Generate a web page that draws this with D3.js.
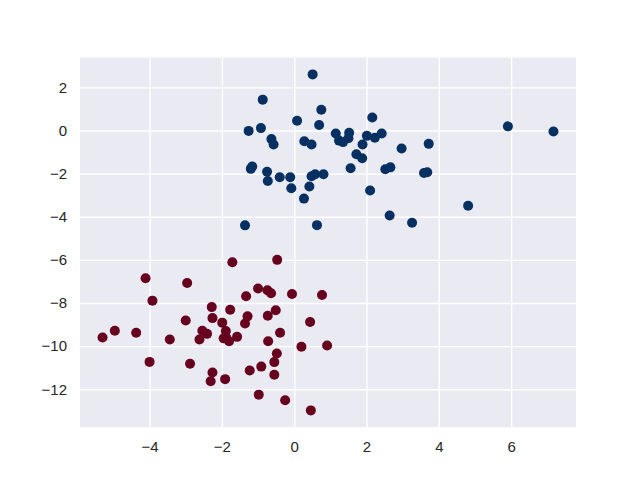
<!DOCTYPE html>
<html>
<head>
<meta charset="utf-8">
<script src="https://cdn.jsdelivr.net/npm/d3@7"></script>
<style>
  html, body { margin: 0; padding: 0; background: #ffffff; }
  svg { display: block; }
</style>
</head>
<body>
<script>
// Cluster 1 (blue) points
const blueX = [0.51, -0.87, 0.75, 0.08, 0.69, -1.26, -0.92, -0.63, -0.57, 0.28,
  0.48, 1.15, 1.24, 1.35, 1.52, 1.50, 2.16, 2.01, 2.23, 2.42,
  1.89, 1.72, 1.88, 1.56, 2.97, 3.72, 2.52, 2.66, 3.59, 3.68,
  -1.20, -1.16, -0.75, -0.73, -0.40, -0.11, -0.08, 0.48, 0.58, 0.81,
  0.42, 0.27, 2.10, 2.64, 3.26, -1.36, 0.63, 4.81, 5.91, 7.17];
const blueY = [2.60, 1.43, 0.96, 0.45, 0.25, -0.02, 0.11, -0.40, -0.65, -0.50,
  -0.65, -0.14, -0.47, -0.54, -0.11, -0.36, 0.60, -0.25, -0.34, -0.14,
  -0.65, -1.10, -1.29, -1.75, -0.84, -0.62, -1.80, -1.71, -1.97, -1.94,
  -1.78, -1.67, -1.91, -2.34, -2.17, -2.17, -2.68, -2.12, -2.03, -2.03,
  -2.60, -3.16, -2.78, -3.94, -4.28, -4.40, -4.39, -3.49, 0.19, -0.05];
// Cluster 0 (red) points
const redX = [-1.71, -0.47, -4.11, -2.96, -3.92, -1.33, -1.00, -0.74, -0.64, -0.06,
  0.77, -2.28, -1.77, -1.29, -1.36, -2.26, -1.99, -3.00, -0.73, -0.51,
  0.44, -2.54, -2.41, -2.62, -1.89, -1.88, -1.80, -1.95, -1.58, -0.72,
  -0.39, -4.96, -5.30, -4.37, -3.44, -4.00, -2.88, -2.26, -2.31, -1.91,
  -1.23, -0.91, -0.55, -0.55, -0.48, 0.20, 0.91, -0.98, -0.25, 0.46];
const redY = [-6.11, -6.00, -6.85, -7.07, -7.89, -7.69, -7.33, -7.41, -7.55, -7.58,
  -7.63, -8.19, -8.31, -8.62, -8.95, -8.70, -8.91, -8.81, -8.59, -8.34,
  -8.88, -9.29, -9.43, -9.69, -9.30, -9.60, -9.77, -9.64, -9.57, -9.77,
  -9.38, -9.29, -9.60, -9.38, -9.69, -10.73, -10.82, -11.22, -11.63, -11.53,
  -11.13, -10.95, -11.33, -10.74, -10.34, -10.03, -9.97, -12.25, -12.51, -12.98];
const xTicks = [-4, -2, 0, 2, 4, 6];
const yTicks = [-12, -10, -8, -6, -4, -2, 0, 2];
const colors = { blue: "#053061", red: "#67001f" };

const W = 640, H = 480;
const padL = 80, padT = 57.6, pw = 496, ph = 369.6;

const points = [];
redX.forEach((v, i) => points.push({ x: v, y: redY[i], c: colors.red }));
blueX.forEach((v, i) => points.push({ x: v, y: blueY[i], c: colors.blue }));

const allX = points.map(p => p.x), allY = points.map(p => p.y);
const xmin = d3.min(allX), xmax = d3.max(allX);
const ymin = d3.min(allY), ymax = d3.max(allY);
const mx = (xmax - xmin) * 0.05, my = (ymax - ymin) * 0.05;

const xs = d3.scaleLinear().domain([xmin - mx, xmax + mx]).range([padL, padL + pw]);
const ys = d3.scaleLinear().domain([ymin - my, ymax + my]).range([padT + ph, padT]);

const svg = d3.select("body").append("svg").attr("width", W).attr("height", H);
svg.append("rect").attr("x", padL).attr("y", padT).attr("width", pw).attr("height", ph)
  .attr("fill", "#eaeaf2");

const fmt = d => (d < 0 ? "\u2212" + Math.abs(d) : String(d));

const xAxis = svg.append("g").attr("transform", `translate(0,${padT + ph})`)
  .call(d3.axisBottom(xs).tickValues(xTicks).tickFormat(fmt).tickSize(-ph).tickPadding(14));
const yAxis = svg.append("g").attr("transform", `translate(${padL},0)`)
  .call(d3.axisLeft(ys).tickValues(yTicks).tickFormat(fmt).tickSize(-pw).tickPadding(13));

[xAxis, yAxis].forEach(g => {
  g.select(".domain").remove();
  g.selectAll(".tick line").attr("stroke", "#ffffff").attr("stroke-width", 1.4);
  g.selectAll(".tick text").attr("fill", "#262626")
    .style("font-family", "'Liberation Sans', Arial, sans-serif").style("font-size", "15px");
});

svg.append("g").selectAll("circle").data(points).join("circle")
  .attr("cx", d => xs(d.x)).attr("cy", d => ys(d.y)).attr("r", 5)
  .attr("fill", d => d.c);
</script>
</body>
</html>
